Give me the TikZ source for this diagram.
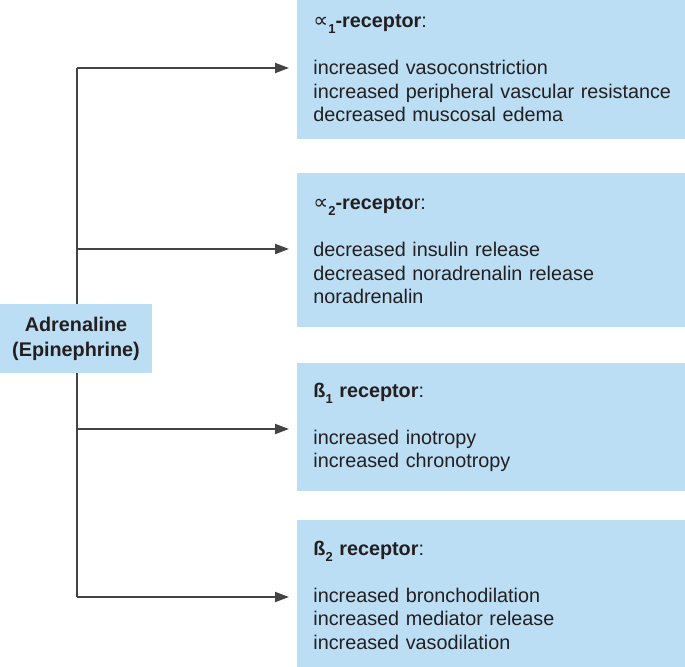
\documentclass[tikz,border=0pt]{standalone}
\usepackage{fontspec}
\setmainfont{Liberation Sans}
\newfontfamily\symfont{DejaVu Sans}
\usetikzlibrary{arrows.meta}
\definecolor{boxblue}{RGB}{187,222,244}
\definecolor{inkgray}{RGB}{35,31,32}
\definecolor{linegray}{RGB}{68,68,68}
\newcommand{\alphasym}{{\symfont\fontsize{10.5}{10}\selectfont ∝}}
\newcommand{\lowidx}[1]{\raisebox{-0.55ex}{\fontsize{6.5}{7}\selectfont\bfseries #1}}

\begin{document}
\begin{tikzpicture}[x=0.5pt,y=-0.5pt,>={Triangle[length=7pt,width=5pt]},line cap=butt,line join=miter,
  font=\fontsize{9.9}{11.75}\selectfont,
  effectbox/.style={fill=boxblue,text=inkgray,anchor=north west,minimum width=194pt,
    text width=186pt,inner xsep=8pt,inner ysep=0pt,align=left},
  drugbox/.style={fill=boxblue,text=inkgray,minimum width=76pt,minimum height=34.5pt,
    align=center,inner sep=0pt,font=\fontsize{9.9}{12.5}\selectfont\bfseries},
  link/.style={draw=linegray,line width=1pt}]
\useasboundingbox (0,0) rectangle (685,667);
% receptor boxes
\node[effectbox,minimum height=71pt] (aone) at (297,-3)
  {\alphasym\lowidx{1}\textbf{-receptor}:\\[11.75pt]
   increased vasoconstriction\\
   increased peripheral vascular resistance\\
   decreased muscosal edema};
\node[effectbox,minimum height=77pt] (atwo) at (297,173)
  {\alphasym\lowidx{2}\textbf{-recepto}r:\\[11.75pt]
   decreased insulin release\\
   decreased noradrenalin release\\
   noradrenalin};
\node[effectbox,minimum height=64pt] (bone) at (297,363)
  {\textbf{ß}\lowidx{1} \textbf{receptor}:\\[11.75pt]
   increased inotropy\\
   increased chronotropy};
\node[effectbox,minimum height=75pt] (btwo) at (297,520)
  {\textbf{ß}\lowidx{2} \textbf{receptor}:\\[11.75pt]
   increased bronchodilation\\
   increased mediator release\\
   increased vasodilation};
% drug
\node[drugbox] (adr) at (76,338.5) {Adrenaline\\(Epinephrine)};
% trunk and branches
\coordinate (j1) at (77,68);
\coordinate (j2) at (77,249);
\coordinate (j3) at (77,429);
\coordinate (j4) at (77,597);
\draw[link] (j1) -- (j1 |- adr.north);
\draw[link] (j4 |- adr.south) -- (j4);
\draw[link,->,shorten >=4pt] (j1) -- (j1 -| aone.west);
\draw[link,->,shorten >=4pt] (j2) -- (j2 -| atwo.west);
\draw[link,->,shorten >=4pt] (j3) -- (j3 -| bone.west);
\draw[link,->,shorten >=4pt] (j4) -- (j4 -| btwo.west);
\end{tikzpicture}
\end{document}
